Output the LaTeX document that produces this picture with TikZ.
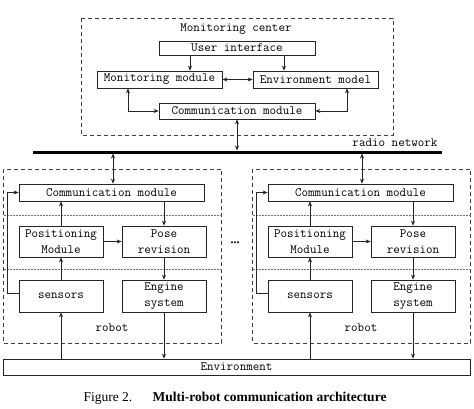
\documentclass[tikz,border=0pt]{standalone}
\usepackage{fontspec}
\setmainfont{Liberation Serif}
\usetikzlibrary{arrows.meta,positioning}
\newcommand{\boxfont}{\ttfamily\addfontfeature{FakeBold=0.6}\fontsize{12.7}{15.5}\selectfont}
\tikzset{
    %Define standard arrow tip
    >={Stealth[length=5pt,width=4pt]},
    %Define style for boxes
    blok/.style={
           rectangle,
           draw=black!85, line width=0.7pt,
           inner sep=0pt,
           font=\boxfont,
           align=center},
    lbl/.style={font=\boxfont},
    % dashed frames and dotted separators
    frame/.style={draw=black!75, line width=0.7pt, dash pattern=on 4pt off 3pt},
    sep/.style={draw=black!55, line width=0.5pt, densely dotted},
    % Define arrow style
    pil/.style={
           ->,
           draw=black!85,
           line width=0.7pt}
}
\begin{document}
\begin{tikzpicture}[x=1pt,y=-1pt]
\useasboundingbox (0,0) rectangle (474,408);

% monitoring center
\draw[frame] (81,18) rectangle (393,135);
\node[lbl] (mc) at (236,29) {Monitoring center};
\node[blok, minimum width=156pt, minimum height=14pt] (ui) at (237,48) {User interface};
\node[blok, minimum width=125pt, minimum height=17pt] (mm) at (159.5,79.5) {Monitoring module};
\node[blok, minimum width=125pt, minimum height=17pt] (em) at (315.5,79.5) {Environment model};
\node[blok, minimum width=156pt, minimum height=16pt] (cm) at (237,111) {Communication module};

\draw[pil] (ui.south -| 190,0) -- (mm.north -| 190,0);
\draw[pil] (ui.south -| 284,0) -- (em.north -| 284,0);
\draw[pil,<->] (mm) -- (em);
\draw[pil,<->] (mm.south -| 128,0) |- (cm.west);
\draw[pil,<->] (em.south -| 347,0) |- (cm.east);

% radio network
\coordinate (busL) at (33,152);
\coordinate (busR) at (442,152);
\draw[line width=3pt] (busL) -- (busR);
\node[lbl] (rn) at (395,143) {radio network};
\draw[pil,<->,shorten >=1.5pt] (cm.south) -- (cm.south |- busL);

% environment
\node[blok, minimum width=467pt, minimum height=16pt] (env) at (236.5,367) {Environment};

% robots
\foreach \r/\dx in {1/0,2/249}{
\begin{scope}[xshift=\dx pt]
\draw[frame] (3.5,169) rectangle (221.5,343);
\draw[sep] (3.5,215) -- (221.5,215);
\draw[sep] (3.5,269) -- (221.5,269);
\node[blok, minimum width=185pt, minimum height=17pt] (comm\r) at (111.5,192.5) {Communication module};
\node[blok, minimum width=84pt, minimum height=31pt] (pos\r) at (61,241.5) {Positioning\\Module};
\node[blok, minimum width=84pt, minimum height=31pt] (pose\r) at (164,241.5) {Pose\\revision};
\node[blok, minimum width=84pt, minimum height=32pt] (sens\r) at (61,296) {sensors};
\node[blok, minimum width=84pt, minimum height=32pt] (eng\r) at (164,296) {Engine\\system};
\node[lbl] (rob\r) at (112,328) {robot};

\draw[pil,<->] ([xshift=1.5pt]comm\r.north |- busL) ++(0,1.5) -- ([xshift=1.5pt]comm\r.north);
\draw[pil] (pos\r) -- (pos\r |- comm\r.south);
\draw[pil] (comm\r.south -| pose\r) -- (pose\r);
\draw[pil] (pos\r) -- (pose\r);
\draw[pil] (sens\r) -- (pos\r);
\draw[pil] (pose\r) -- (eng\r);
\draw[pil] ([yshift=3pt]sens\r.west) -| ([xshift=-11pt]comm\r.west) -- (comm\r.west);
\draw[pil] (env.north -| sens\r) -- (sens\r);
\draw[pil] (eng\r) -- (env.north -| eng\r);
\end{scope}
}
\node[font=\bfseries\fontsize{12}{13}\selectfont] (dots) at (235,243) {...};

% caption
\node[font=\fontsize{13.5}{15}\selectfont] (cap) at (235,398) {Figure 2.\hspace{1.5em}\textbf{Multi-robot communication architecture}};

\end{tikzpicture}
\end{document}
